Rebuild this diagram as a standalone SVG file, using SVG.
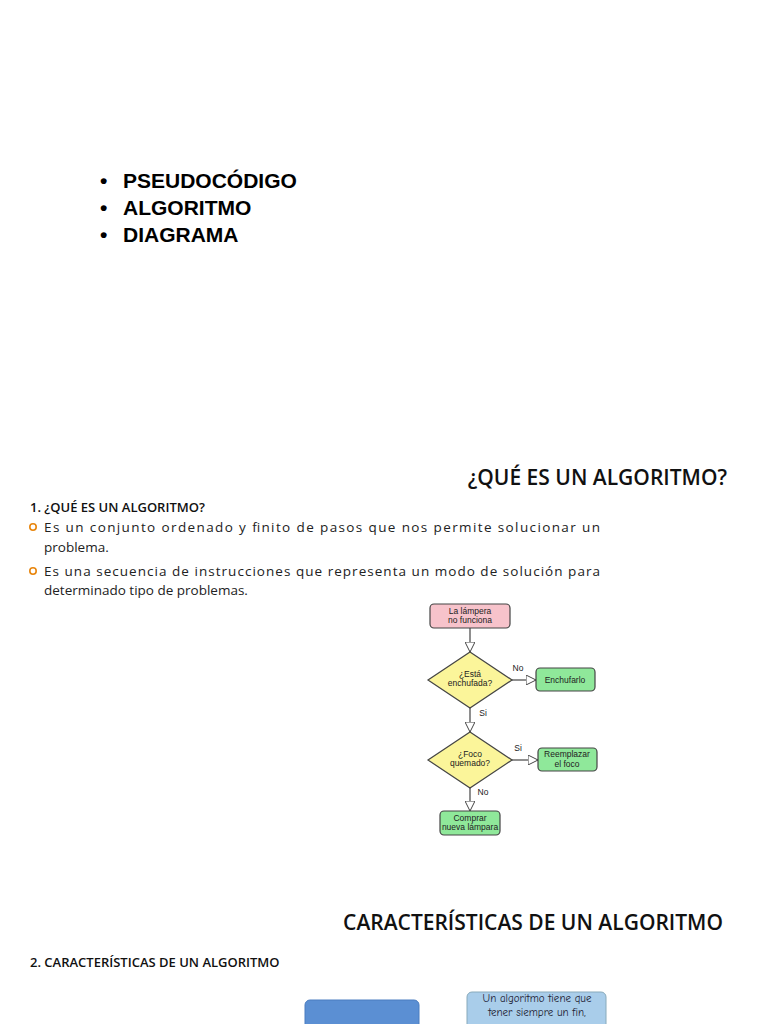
<svg xmlns="http://www.w3.org/2000/svg" width="768" height="1024" viewBox="0 0 768 1024">
<defs>
<style>
.b{font-family:"Liberation Sans",Arial,sans-serif;font-weight:bold;font-size:21px;fill:#000}
.h{font-family:"Open Sans","Liberation Sans",sans-serif;font-weight:600;fill:#111}
.t{font-family:"Open Sans","Liberation Sans",sans-serif;font-size:13.5px;fill:#222}
.f{font-family:"Liberation Sans",Arial,sans-serif;font-size:8.5px;fill:#222;text-anchor:middle}
.n{stroke:#444;stroke-width:1.2}
.c{stroke:#444;stroke-width:1.2;fill:none}
</style>
<marker id="a" viewBox="0 0 10 10" refX="10" refY="5" markerWidth="10" markerHeight="10" markerUnits="userSpaceOnUse" orient="auto"><path d="M0,0L10,5L0,10Z" fill="#fff" stroke="#444" stroke-width="1"/></marker>
</defs>
<rect width="768" height="1024" fill="#fff"/>
<g id="bullets">
<text class="b" x="100" y="188">•</text><text class="b" x="123" y="188">PSEUDOCÓDIGO</text>
<text class="b" x="100" y="215">•</text><text class="b" x="123" y="215">ALGORITMO</text>
<text class="b" x="100" y="242">•</text><text class="b" x="123" y="242">DIAGRAMA</text>
</g>
<text class="h" x="727" y="485" font-size="21" text-anchor="end">¿QUÉ ES UN ALGORITMO?</text>
<text class="h" x="30" y="512" font-size="13">1. ¿QUÉ ES UN ALGORITMO?</text>
<circle cx="33" cy="527" r="3.2" fill="none" stroke="#e8850c" stroke-width="1.6"/>
<text class="t" x="44" y="532" textLength="556" lengthAdjust="spacing">Es un conjunto  ordenado y finito de  pasos que nos permite  solucionar un</text>
<text class="t" x="44" y="552">problema.</text>
<circle cx="33" cy="571" r="3.2" fill="none" stroke="#e8850c" stroke-width="1.6"/>
<text class="t" x="44" y="576" textLength="556" lengthAdjust="spacing">Es una secuencia de  instrucciones que  representa un modo de  solución para</text>
<text class="t" x="44" y="595">determinado tipo de problemas.</text>
<g id="connectors">
<path class="c" d="M470,628V652" marker-end="url(#a)"/>
<path class="c" d="M512,680H536" marker-end="url(#a)"/>
<path class="c" d="M470,708V732" marker-end="url(#a)"/>
<path class="c" d="M512,760H538" marker-end="url(#a)"/>
<path class="c" d="M470,788V811" marker-end="url(#a)"/>
<text class="f" x="518" y="671">No</text>
<text class="f" x="483" y="716">Si</text>
<text class="f" x="518" y="751">Si</text>
<text class="f" x="483" y="795">No</text>
</g>
<g id="n1"><rect class="n" x="430" y="604" width="80" height="24" rx="4" fill="#f7c3cb"/><text class="f" x="470" y="614">La lámpera</text><text class="f" x="470" y="623">no funciona</text></g>
<g id="n2"><path class="n" d="M470,652L512,680L470,708L428,680Z" fill="#fbf59a"/><text class="f" x="470" y="677">¿Está</text><text class="f" x="470" y="686">enchufada?</text></g>
<g id="n3"><rect class="n" x="536" y="668" width="59" height="23" rx="4" fill="#8fe89a"/><text class="f" x="565" y="683">Enchufarlo</text></g>
<g id="n4"><path class="n" d="M470,732L512,760L470,788L428,760Z" fill="#fbf59a"/><text class="f" x="470" y="757">¿Foco</text><text class="f" x="470" y="766">quemado?</text></g>
<g id="n5"><rect class="n" x="538" y="748" width="59" height="23" rx="4" fill="#8fe89a"/><text class="f" x="567" y="757">Reemplazar</text><text class="f" x="567" y="767">el foco</text></g>
<g id="n6"><rect class="n" x="440" y="811" width="60" height="24" rx="4" fill="#8fe89a"/><text class="f" x="470" y="821">Comprar</text><text class="f" x="470" y="830">nueva lámpara</text></g>
<text class="h" x="723" y="930" font-size="21" text-anchor="end">CARACTERÍSTICAS DE UN ALGORITMO</text>
<text class="h" x="30" y="967" font-size="13">2. CARACTERÍSTICAS DE UN ALGORITMO</text>
<rect x="305" y="1000" width="114" height="40" rx="5" fill="#5b8fd3" stroke="#4a7cc0"/>
<rect x="467" y="992" width="139" height="50" rx="5" fill="#a9cdea" stroke="#8ab"/>
<text x="537" y="1002" font-family="'Comic Neue','DejaVu Sans',sans-serif" font-size="11" text-anchor="middle" fill="#223">Un algoritmo tiene que</text>
<text x="537" y="1016" font-family="'Comic Neue','DejaVu Sans',sans-serif" font-size="11" text-anchor="middle" fill="#223">tener siempre un fin,</text>
</svg>
